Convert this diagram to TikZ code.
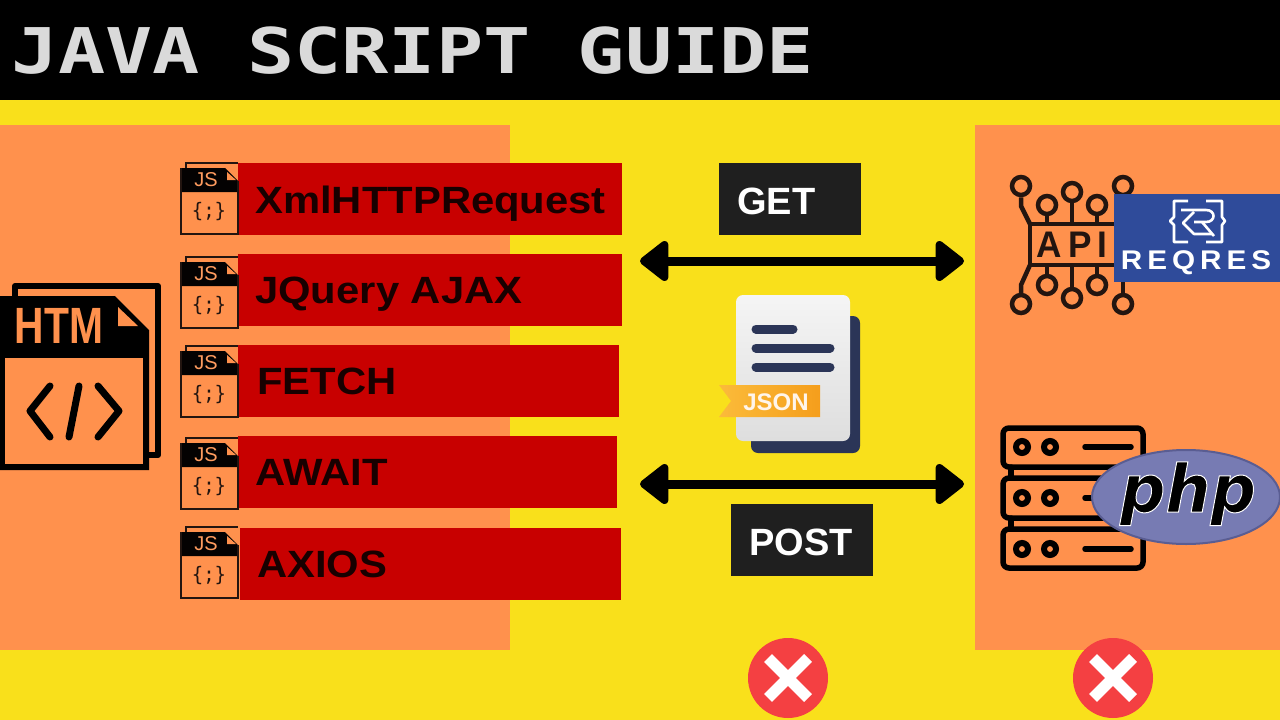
\documentclass[tikz,border=0pt]{standalone}
\usepackage{graphicx}
\usepackage{fontspec}
\setmainfont{Liberation Sans}
\newfontfamily\lib{Liberation Sans}
\newfontfamily\barfont[FakeStretch=1.10]{Liberation Sans}
\newfontfamily\mono{DejaVu Sans Mono}
\newfontfamily\phpfont{DejaVu Sans}
\usetikzlibrary{arrows.meta}
\definecolor{yel}{HTML}{F9E01B}
\definecolor{ora}{HTML}{FF914D}
\definecolor{redbar}{HTML}{C80000}
\definecolor{ink}{HTML}{231510}
\definecolor{boxdark}{HTML}{1F1F1F}
\definecolor{navy}{HTML}{2F4B9A}
\definecolor{docnavy}{HTML}{2B3557}
\definecolor{phpblue}{HTML}{777BB3}
\definecolor{phpedge}{HTML}{5A5D92}
\definecolor{crossred}{HTML}{F44042}
\definecolor{titlegrey}{HTML}{DADADA}
\definecolor{ribbonl}{HTML}{FBBB3A}
\definecolor{ribbonr}{HTML}{F59E1C}
\tikzset{
  panel/.style={fill=ora,draw=none},
  barbox/.style={fill=redbar,draw=none,inner sep=0pt,anchor=north west},
  barlabel/.style={anchor=base west,inner sep=0pt,font=\barfont\bfseries\fontsize{38}{38}\selectfont,text=black!88!redbar},
  methodbox/.style={fill=boxdark,draw=none,inner sep=0pt,minimum height=72pt,minimum width=142pt,anchor=north west},
  methodlabel/.style={anchor=base west,inner sep=0pt,text=white,font=\lib\bfseries\fontsize{38}{38}\selectfont},
  biarrow/.style={line width=9pt,black,{Triangle[length=31pt,width=46pt,round]}-{Triangle[length=31pt,width=46pt,round]}},
  thinicon/.style={draw=ink,line width=2pt},
  apiwire/.style={draw=ink,line width=4.5pt},
  apipad/.style={draw=ink,line width=4.5pt,circle,inner sep=0pt,minimum size=18pt},
  srvbox/.style={draw=black,line width=5.5pt,rounded corners=6pt},
  srvdot/.style={draw=black,line width=6pt,circle,inner sep=0pt,minimum size=12pt},
  srvdash/.style={draw=black,line width=5.5pt,line cap=round},
  logostroke/.style={draw=white,line width=2.6pt,line join=round},
  htmlstroke/.style={draw=black,line width=7pt,line cap=round,line join=round},
  jsicon/.pic={
    \draw[thinicon] (5,5) -- (5,0) -- (57,0);
    \fill[ora] (0,5) -- (44,5) -- (57,18) -- (57,71) -- (0,71) -- cycle;
    \fill[black!90!ink] (0,5) -- (44,5) -- (57,18) -- (57,29) -- (0,29) -- cycle;
    \fill[ora] (46,9) -- (46,17) -- (55,17) -- cycle;
    \draw[thinicon] (0,5) -- (0,71) -- (57,71) -- (57,18);
    \node[inner sep=0pt,text=ora!90!white,font=\lib\fontsize{20}{20}\selectfont] (-js) at (25,17) {JS};
    \node[inner sep=0pt,text=ink,font=\mono\fontsize{20}{20}\selectfont] (-br) at (28,49) {\scalebox{0.95}[1]{\{;\}}};
  },
  crossmark/.pic={
    \fill[crossred] (0,0) circle[radius=40];
    \draw[white,line width=11pt] (-20,-20) -- (20,20) (-20,20) -- (20,-20);
  }
}
\begin{document}
\begin{tikzpicture}[x=1pt,y=-1pt]
\useasboundingbox (0,0) rectangle (1280,720);
\fill[yel] (0,0) rectangle (1280,720);
\fill[black] (0,0) rectangle (1280,100);
\fill[panel] (0,125) rectangle (510,650);
\fill[panel] (975,125) rectangle (1280,650);

% title
\node[anchor=base west,inner sep=0pt,text=titlegrey] (title) at (11,73)
  {\scalebox{1.245}[1]{\mono\bfseries\fontsize{63}{63}\selectfont JAVA SCRIPT GUIDE}};

% bars
\node[barbox,minimum width=384pt,minimum height=72pt] (b1) at (238,163) {};
\node[barbox,minimum width=384pt,minimum height=72pt] (b2) at (238,254) {};
\node[barbox,minimum width=381pt,minimum height=72pt] (b3) at (238,345) {};
\node[barbox,minimum width=379pt,minimum height=72pt] (b4) at (238,436) {};
\node[barbox,minimum width=381pt,minimum height=72pt] (b5) at (240,528) {};
\node[barlabel] (t1) at (255,213) {XmlHTTPRequest};
\node[barlabel] (t2) at (255,303) {JQuery AJAX};
\node[barlabel] (t3) at (257,394) {FETCH};
\node[barlabel] (t4) at (255,485) {AWAIT};
\node[barlabel] (t5) at (257,577) {AXIOS};

% js icons
\pic (j1) at (181,163) {jsicon};
\pic (j2) at (181,257) {jsicon};
\pic (j3) at (181,346) {jsicon};
\pic (j4) at (181,438) {jsicon};
\pic (j5) at (181,527) {jsicon};

% html icon
\draw[draw=black,line width=6pt,line join=round] (15,298) -- (15,286) -- (158,286) -- (158,455) -- (146,455);
\fill[black] (0,296) -- (115,296) -- (149,330) -- (149,470) -- (0,470) -- cycle;
\fill[ora] (118,307) -- (118,326) -- (138,326) -- cycle;
\fill[ora] (5,358) rectangle (143,464);
\node[inner sep=0pt,text=ora,font=\lib\bfseries\fontsize{51}{51}\selectfont] (htm) at (59,326) {\scalebox{0.8}[1]{HTM}};
\draw[htmlstroke] (50,386) -- (30,411) -- (50,437);
\draw[htmlstroke] (79,386) -- (69,437);
\draw[htmlstroke] (98,386) -- (119,411) -- (98,437);

% GET / POST
\node[methodbox] (get) at (719,163) {};
\node[methodlabel] at (737,214) (getl) {GET};
\node[methodbox] (post) at (731,504) {};
\node[methodlabel] at (749,555) (postl) {POST};

% arrows
\coordinate (a1) at (640,261); \coordinate (a2) at (964,261);
\coordinate (a3) at (640,484); \coordinate (a4) at (964,484);
\draw[biarrow] (a1) -- (a2);
\draw[biarrow] (a3) -- (a4);

% json document
\fill[docnavy,rounded corners=7pt] (751,316) rectangle (860,453);
\shade[top color=white!96!black,bottom color=white!87!black,rounded corners=7pt] (736,295) rectangle (850,441);
\draw[docnavy,line width=9pt,line cap=round] (756,329) -- (793,329);
\draw[docnavy,line width=9pt,line cap=round] (756,348) -- (830,348);
\draw[docnavy,line width=9pt,line cap=round] (756,367) -- (830,367);
\shade[left color=ribbonl,right color=ribbonr] (719,385) -- (820,385) -- (820,417) -- (719,417) -- (731,401) -- cycle;
\node[inner sep=0pt,text=white!92!orange,font=\lib\bfseries\fontsize{24}{24}\selectfont] (json) at (776,402) {JSON};

% API chip
\node[apipad] (p1) at (1021,186) {};
\node[apipad] (p2) at (1047,205) {};
\node[apipad] (p3) at (1072,192) {};
\node[apipad] (p4) at (1097,205) {};
\node[apipad] (p5) at (1123,186) {};
\node[apipad] (q1) at (1021,304) {};
\node[apipad] (q2) at (1047,285) {};
\node[apipad] (q3) at (1072,298) {};
\node[apipad] (q4) at (1097,285) {};
\node[apipad] (q5) at (1123,304) {};
\draw[apiwire] (1030,224) rectangle (1116,265);
\draw[apiwire] (p1) -- (1021,206) -- (1030,224);
\draw[apiwire] (p2) -- (1047,224);
\draw[apiwire] (p3) -- (1072,224);
\draw[apiwire] (p4) -- (1097,224);
\draw[apiwire] (p5) -- (1123,224);
\draw[apiwire] (q1) -- (1021,285) -- (1030,265);
\draw[apiwire] (q2) -- (1047,265);
\draw[apiwire] (q3) -- (1072,265);
\draw[apiwire] (q4) -- (1097,265);
\draw[apiwire] (q5) -- (1123,265);
\node[inner sep=0pt,text=ink,font=\lib\bfseries\fontsize{37}{37}\selectfont] (api) at (1072,245) {\scalebox{0.95}[1]{A\,P\,I}};

% reqres
\fill[navy] (1114,194) rectangle (1280,282);
\draw[logostroke] (1188,201) -- (1174,201) -- (1174,217) -- (1170,221) -- (1174,225) -- (1174,242) -- (1188,242);
\draw[logostroke] (1206,201) -- (1222,201) -- (1222,217) -- (1225,221) -- (1222,225) -- (1222,242) -- (1206,242);
\draw[logostroke] (1181,210) -- (1206,210) .. controls (1216,210) and (1216,222) .. (1206,222) -- (1194,222);
\draw[logostroke] (1194,212) -- (1183,223) -- (1194,234) -- (1212,234);
\draw[logostroke] (1202,222) -- (1214,236);
\node[inner sep=0pt,text=white,font=\lib\bfseries\fontsize{27}{27}\selectfont] (req) at (1196,263) {\scalebox{1.1}[1]{R\,E\,Q\,R\,E\,S}};

% server
\draw[srvdash] (1011,467) -- (1011,477) (1011,518) -- (1011,527);
\draw[srvbox] (1003,428) rectangle (1143,467);
\draw[srvbox] (1003,478) rectangle (1143,518);
\draw[srvbox] (1003,529) rectangle (1143,568);
\foreach \yy/\nn in {447/a,498/b,549/c}{
  \node[srvdot] (d1\nn) at (1022,\yy) {};
  \node[srvdot] (d2\nn) at (1050,\yy) {};
  \draw[srvdash] (1085,\yy) -- (1131,\yy);
}

% php
\fill[phpblue] (1186,497) ellipse[x radius=94, y radius=47];
\draw[phpedge,line width=2pt] (1186,497) ellipse[x radius=94, y radius=47];
\node[anchor=base,inner sep=0pt,text=black,font=\phpfont\bfseries\itshape\fontsize{66}{66}\selectfont] (php) at (1188,512)
  {\scalebox{0.96}[1]{\special{pdf:code 1 1 1 RG 2 Tr 1 w}php\special{pdf:code 0 Tr}}};

% crosses
\pic (c1) at (788,678) {crossmark};
\pic (c2) at (1113,678) {crossmark};
\end{tikzpicture}
\end{document}
